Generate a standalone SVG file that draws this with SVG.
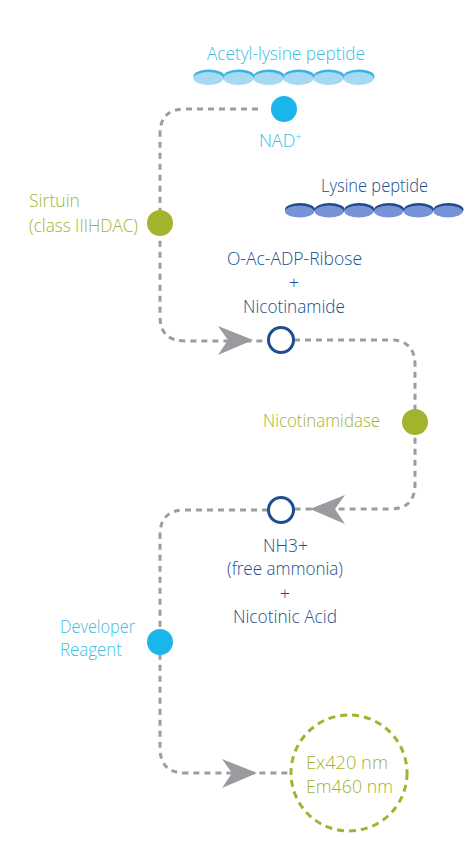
<svg xmlns="http://www.w3.org/2000/svg" width="474" height="859" viewBox="0 0 474 859">
<defs>
<style>
.t{font-family:"Open Sans","Noto Sans","Liberation Sans",sans-serif;font-size:18px;font-weight:300}
.cy{fill:#3bbde2}
.ol{fill:#a3b32e}
.db{fill:#204f8c}
.ln{fill:none;stroke:#9d9d9f;stroke-width:3;stroke-dasharray:6 5}
.arr{fill:#9b9b9f}
.open{fill:#fff;stroke:#1d4e91;stroke-width:3}
.acD{fill:#3ab2e2}.acL{fill:#a7d9f3}
.lyD{fill:#1f4b8e}.lyL{fill:#7792d6}
</style>
</defs>
<rect width="474" height="859" fill="#fff"/>
<g id="connectors">
<path class="ln" d="M258 109 H185 Q160 109 160 134 V316 Q160 341 185 341 H268"/>
<path class="ln" d="M294 340 H390 Q415 340 415 365 V484 Q415 509 390 509 H294"/>
<path class="ln" d="M268 510 H185 Q160 510 160 535 V748 Q160 773 185 773 H291"/>
<polygon class="arr" points="218,326 253,340 218,355 228,340"/>
<polygon class="arr" points="345,495 310,509 345,524 335,509"/>
<polygon class="arr" points="222,759 257,773 222,788 232,773"/>
</g>
<g id="acetyl-lysine-peptide">
<text class="t cy" x="286" y="60" text-anchor="middle" textLength="158" lengthAdjust="spacingAndGlyphs">Acetyl-lysine peptide</text>
<g>
<ellipse class="acD" cx="209" cy="76.5" rx="15.5" ry="7"/><ellipse class="acD" cx="239" cy="76.5" rx="15.5" ry="7"/><ellipse class="acD" cx="269" cy="76.5" rx="15.5" ry="7"/><ellipse class="acD" cx="299" cy="76.5" rx="15.5" ry="7"/><ellipse class="acD" cx="329" cy="76.5" rx="15.5" ry="7"/><ellipse class="acD" cx="359" cy="76.5" rx="15.5" ry="7"/>
<ellipse class="acL" cx="208.5" cy="78.5" rx="15" ry="6.5"/><ellipse class="acL" cx="238.5" cy="78.5" rx="15" ry="6.5"/><ellipse class="acL" cx="268.5" cy="78.5" rx="15" ry="6.5"/><ellipse class="acL" cx="298.5" cy="78.5" rx="15" ry="6.5"/><ellipse class="acL" cx="328.5" cy="78.5" rx="15" ry="6.5"/><ellipse class="acL" cx="358.5" cy="78.5" rx="15" ry="6.5"/>
</g>
</g>
<g id="nad">
<circle cx="284" cy="109" r="13" fill="#1ab5ea"/>
<text class="t cy" x="280" y="147" text-anchor="middle">NAD<tspan font-size="10" dy="-7">+</tspan></text>
</g>
<g id="lysine-peptide">
<text class="t db" x="374.5" y="192" text-anchor="middle" textLength="107" lengthAdjust="spacingAndGlyphs">Lysine peptide</text>
<g>
<ellipse class="lyD" cx="300" cy="209.5" rx="15" ry="6.5"/><ellipse class="lyD" cx="329.7" cy="209.5" rx="15" ry="6.5"/><ellipse class="lyD" cx="359.4" cy="209.5" rx="15" ry="6.5"/><ellipse class="lyD" cx="389.1" cy="209.5" rx="15" ry="6.5"/><ellipse class="lyD" cx="418.8" cy="209.5" rx="15" ry="6.5"/><ellipse class="lyD" cx="448.5" cy="209.5" rx="15" ry="6.5"/>
<ellipse class="lyL" cx="299.5" cy="211.5" rx="14.5" ry="6"/><ellipse class="lyL" cx="329.2" cy="211.5" rx="14.5" ry="6"/><ellipse class="lyL" cx="358.9" cy="211.5" rx="14.5" ry="6"/><ellipse class="lyL" cx="388.6" cy="211.5" rx="14.5" ry="6"/><ellipse class="lyL" cx="418.3" cy="211.5" rx="14.5" ry="6"/><ellipse class="lyL" cx="448" cy="211.5" rx="14.5" ry="6"/>
</g>
</g>
<g id="sirtuin">
<circle cx="160" cy="223" r="13" fill="#a3b32e"/>
<text class="t ol" x="29" y="207" textLength="51" lengthAdjust="spacingAndGlyphs">Sirtuin</text>
<text class="t ol" x="29" y="232" textLength="109" lengthAdjust="spacingAndGlyphs">(class IIIHDAC)</text>
</g>
<g id="product1">
<circle class="open" cx="281" cy="340" r="12.5"/>
<text class="t db" x="294.5" y="265" text-anchor="middle" textLength="135" lengthAdjust="spacingAndGlyphs">O-Ac-ADP-Ribose</text>
<text class="t db" x="294" y="289" text-anchor="middle">+</text>
<text class="t db" x="294" y="313" text-anchor="middle" textLength="102" lengthAdjust="spacingAndGlyphs">Nicotinamide</text>
</g>
<g id="nicotinamidase">
<circle cx="415" cy="422" r="13" fill="#a3b32e"/>
<text class="t ol" x="321.5" y="427" text-anchor="middle" textLength="117" lengthAdjust="spacingAndGlyphs">Nicotinamidase</text>
</g>
<g id="product2">
<circle class="open" cx="281" cy="510" r="12.5"/>
<text class="t db" x="285.5" y="552" text-anchor="middle" textLength="45" lengthAdjust="spacingAndGlyphs">NH3+</text>
<text class="t db" x="285" y="575" text-anchor="middle" textLength="116" lengthAdjust="spacingAndGlyphs">(free ammonia)</text>
<text class="t db" x="285" y="600" text-anchor="middle">+</text>
<text class="t db" x="285" y="623" text-anchor="middle" textLength="104" lengthAdjust="spacingAndGlyphs">Nicotinic Acid</text>
</g>
<g id="developer">
<circle cx="160" cy="642" r="13" fill="#1ab5ea"/>
<text class="t cy" x="60" y="633" textLength="75" lengthAdjust="spacingAndGlyphs">Developer</text>
<text class="t cy" x="60" y="656" textLength="62" lengthAdjust="spacingAndGlyphs">Reagent</text>
</g>
<g id="readout">
<circle cx="349" cy="773" r="58" fill="none" stroke="#a3b32e" stroke-width="3" stroke-dasharray="7 5"/>
<text class="t ol" x="306" y="769" textLength="82" lengthAdjust="spacingAndGlyphs">Ex420 nm</text>
<text class="t ol" x="306" y="793" textLength="87" lengthAdjust="spacingAndGlyphs">Em460 nm</text>
</g>
</svg>
